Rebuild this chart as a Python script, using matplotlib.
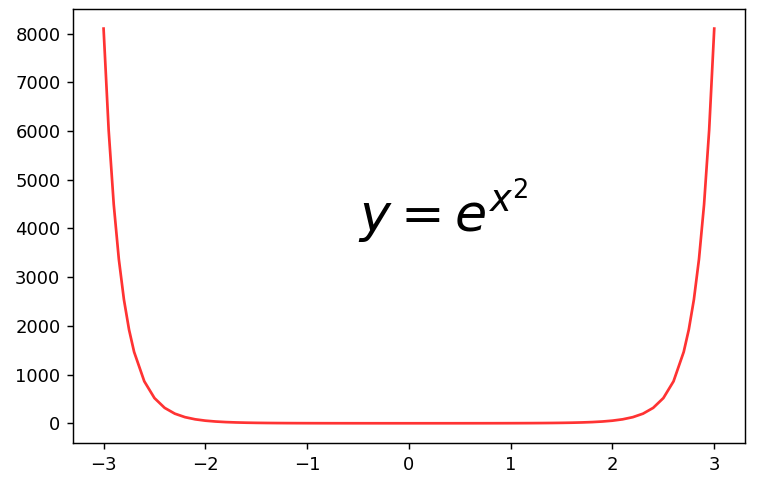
import matplotlib
matplotlib.use('Agg')
from matplotlib import pyplot as plt

# right half of the curve (symmetric about x = 0)
x_half = [0.0, 0.1, 0.2, 0.3, 0.4, 0.5, 0.6, 0.7, 0.8, 0.9,
          1.0, 1.1, 1.2, 1.3, 1.4, 1.5, 1.6, 1.7, 1.8, 1.9,
          2.0, 2.1, 2.2, 2.3, 2.4, 2.5, 2.6, 2.7, 2.75, 2.8,
          2.85, 2.9, 2.95, 3.0]
y_half = [1.0, 1.01, 1.04, 1.09, 1.17, 1.28, 1.43, 1.63, 1.90, 2.25,
          2.72, 3.35, 4.22, 5.42, 7.10, 9.49, 12.9, 18.0, 25.5, 37.0,
          54.6, 82.3, 126.5, 198.3, 317.3, 518.0, 862.6, 1465.5, 1924.7, 2540.2,
          3369.0, 4491.6, 6018.0, 8103.1]

x = [-v for v in x_half[:0:-1]] + x_half
y = y_half[:0:-1] + y_half

fig = plt.figure(figsize=(782 / 130, 490 / 130), dpi=130)
ax = fig.add_axes([0.0934, 0.0959, 0.859, 0.886])
ax.plot(x, y, color='r', alpha=0.8)
ax.text(-0.5, 3920, r'$y=e^{x^2}$', fontsize=29)

fig.savefig('out.png')
